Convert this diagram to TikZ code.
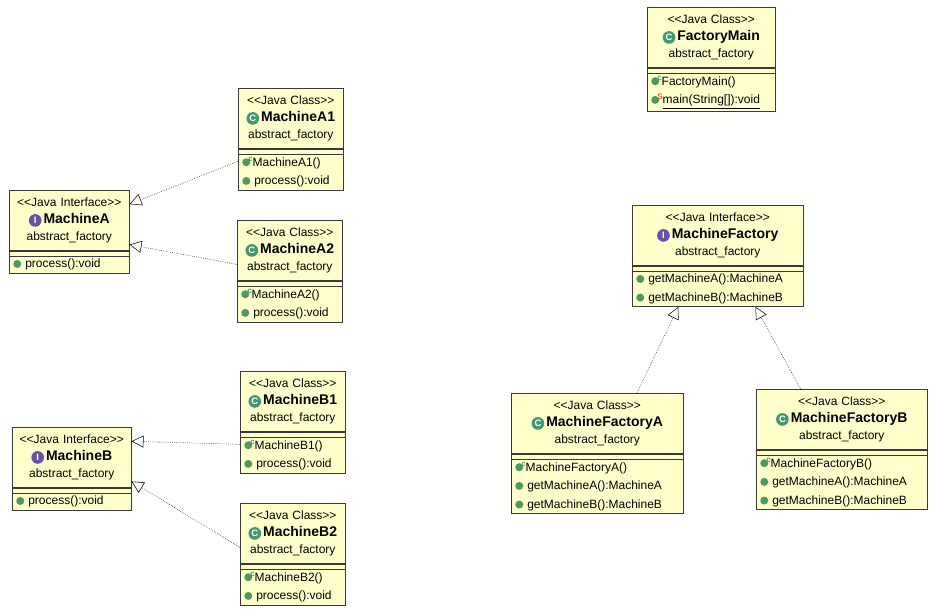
\documentclass[tikz,border=0pt]{standalone}
\usepackage{fontspec}
\setmainfont{Liberation Sans}[Ligatures=NoCommon]
\usetikzlibrary{arrows.meta, calc, positioning}
\definecolor{classfill}{HTML}{FFFFCC}
\definecolor{classline}{HTML}{3A3A3A}
\definecolor{iconc}{HTML}{3F9A6E}
\definecolor{iconi}{HTML}{6A4FA8}
\definecolor{dotgreen}{HTML}{4E9A5E}
\definecolor{staticred}{HTML}{C02020}

\newcommand{\clsicon}[2]{\tikz[baseline=-1.2ex]\node[circle, fill=#1, text=white, inner sep=0pt, minimum size=9.5pt, font=\fontsize{7}{7}\selectfont\bfseries]{#2};}
\newcommand{\mdot}{\tikz[baseline=-0.6ex]\fill[dotgreen] (0,0) circle (3pt);}
\newcommand{\ctor}{\mdot\hspace{-1.5pt}\raisebox{3.5pt}{\color{iconc}\fontsize{6}{6}\selectfont\bfseries c}}
\newcommand{\stat}{\mdot\hspace{-1.5pt}\raisebox{3.5pt}{\color{staticred}\fontsize{6}{6}\selectfont S}}
\newcommand{\uline}[1]{\tikz[baseline=(u.base)]\node[inner sep=0pt] (u) {#1} (u.south west) ++(0,-0.2pt) edge[line width=0.5pt] ++(\linewidth,0);}
\newcommand{\stereo}[1]{\textless\kern0pt\textless Java #1\textgreater\kern0pt\textgreater}

% one class box: name, x, y, width, stereotype, icon, title, methods
\newcommand{\umlbox}[8]{%
  \pgfmathsetmacro{\bw}{#4*0.75}%
  \pgfmathsetmacro{\tw}{#4*0.75-6}%
  \node[hdr, minimum width=\bw pt, text width=\tw pt] (#1) at (#2,#3) {\stereo{#5}\\[0.5pt] #6\,\textbf{\fontsize{10.5}{11}\selectfont #7}\\[0.5pt] abstract\_factory};
  \node[attr, minimum width=\bw pt, below=0pt of #1] (#1-a) {};
  \node[meth, minimum width=\bw pt, text width=\tw pt, below=0pt of #1-a] (#1-m) {#8};
}

\begin{document}
\begin{tikzpicture}[x=0.75pt, y=-0.75pt,
    hdr/.style={draw=classline, fill=classfill, anchor=north west, align=center, minimum height=45pt, inner sep=2pt, font=\fontsize{9}{12.5}\selectfont},
    attr/.style={draw=classline, fill=classfill, minimum height=3.8pt, inner sep=0pt},
    meth/.style={draw=classline, fill=classfill, align=left, inner sep=2pt, font=\fontsize{9}{14}\selectfont},
    realize/.style={draw=black, densely dotted, -{Triangle[open, length=9pt, width=9pt, fill=white]}}]
  \useasboundingbox (0,0) rectangle (932,614);

  % MachineA family
  \umlbox{ma}{9}{190}{120}{Interface}{\clsicon{iconi}{I}}{MachineA}{\mdot\ process():void}
  \umlbox{ma1}{238}{88}{105}{Class}{\clsicon{iconc}{C}}{MachineA1}{\ctor MachineA1()\\ \mdot\ process():void}
  \umlbox{ma2}{237}{220}{105}{Class}{\clsicon{iconc}{C}}{MachineA2}{\ctor MachineA2()\\ \mdot\ process():void}

  % MachineB family
  \umlbox{mb}{12}{427}{119}{Interface}{\clsicon{iconi}{I}}{MachineB}{\mdot\ process():void}
  \umlbox{mb1}{240}{371}{105}{Class}{\clsicon{iconc}{C}}{MachineB1}{\ctor MachineB1()\\ \mdot\ process():void}
  \umlbox{mb2}{240}{503}{105}{Class}{\clsicon{iconc}{C}}{MachineB2}{\ctor MachineB2()\\ \mdot\ process():void}

  % Factories
  \umlbox{fm}{647}{7}{128}{Class}{\clsicon{iconc}{C}}{FactoryMain}{\ctor FactoryMain()\\ \stat\underline{main(String[]):void}}
  \umlbox{mf}{632}{205}{171}{Interface}{\clsicon{iconi}{I}}{MachineFactory}{\mdot\ getMachineA():MachineA\\ \mdot\ getMachineB():MachineB}
  \umlbox{mfa}{511}{393}{172}{Class}{\clsicon{iconc}{C}}{MachineFactoryA}{\ctor MachineFactoryA()\\ \mdot\ getMachineA():MachineA\\ \mdot\ getMachineB():MachineB}
  \umlbox{mfb}{756}{389}{171}{Class}{\clsicon{iconc}{C}}{MachineFactoryB}{\ctor MachineFactoryB()\\ \mdot\ getMachineA():MachineA\\ \mdot\ getMachineB():MachineB}

  % Realizations
  \draw[realize] ($(ma1-m.north west)!0.2!(ma1-m.south west)$) -- (ma.15);
  \draw[realize] (ma2.195) -- (ma.-22);
  \draw[realize] ($(mb1-m.north west)!0.2!(mb1-m.south west)$) -- (mb.15);
  \draw[realize] (mb2.195) -- (mb.-22);
  \draw[realize] ($(mfa.north west)!0.73!(mfa.north east)$) -- ($(mf-m.south west)!0.27!(mf-m.south east)$);
  \draw[realize] ($(mfb.north west)!0.26!(mfb.north east)$) -- ($(mf-m.south west)!0.72!(mf-m.south east)$);
\end{tikzpicture}
\end{document}
